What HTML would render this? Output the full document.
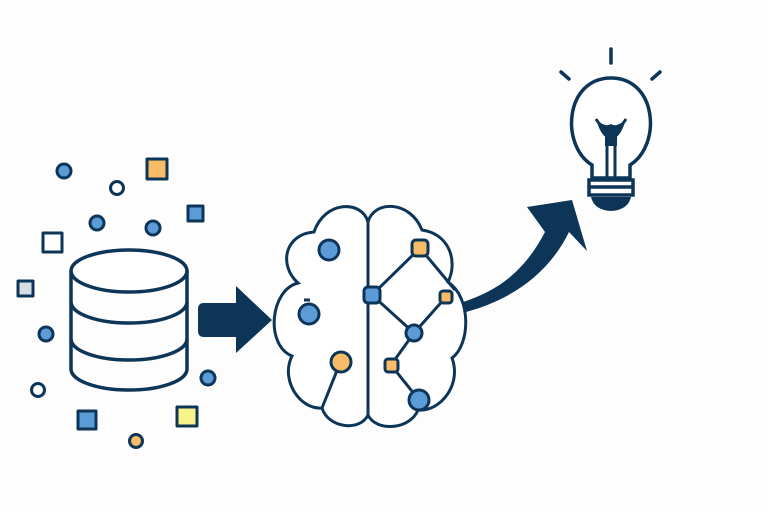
<!DOCTYPE html>
<html><head><style>html,body{margin:0;padding:0;background:#fff}</style></head><body>
<svg width="768" height="512" viewBox="0 0 768 512" xmlns="http://www.w3.org/2000/svg">
<rect width="768" height="512" fill="#fdfdfd"/>
<g stroke="#0d3558" stroke-width="3" stroke-linejoin="round">
<circle cx="64" cy="171" r="7" fill="#5b9bd8"/>
<rect x="147" y="159" width="20" height="20" fill="#f8bb67"/>
<circle cx="117" cy="188" r="6.5" fill="#fff"/>
<rect x="188" y="206" width="15" height="15" fill="#5b9bd8"/>
<circle cx="97" cy="223" r="7" fill="#5b9bd8"/>
<circle cx="153" cy="228" r="7" fill="#5b9bd8"/>
<rect x="43" y="233" width="19" height="19" fill="#fff"/>
<rect x="18" y="281" width="15" height="15" fill="#d6dde3"/>
<circle cx="46" cy="334" r="7" fill="#5b9bd8"/>
<circle cx="38" cy="390" r="6.5" fill="#fff"/>
<rect x="78" y="411" width="18" height="18" fill="#5b9bd8"/>
<circle cx="208" cy="378" r="7" fill="#5b9bd8"/>
<rect x="177" y="407" width="20" height="19" fill="#f7f28a"/>
<circle cx="136" cy="441" r="6.5" fill="#f8bb67"/>
</g>
<g fill="none" stroke="#0d3558" stroke-width="3.5">
<ellipse cx="129" cy="271" rx="58" ry="21" fill="#fff"/>
<path d="M71 271 V369 A58 21 0 0 0 187 369 V271"/>
<path d="M71 302 A58 21 0 0 0 187 302"/>
<path d="M71 339 A58 21 0 0 0 187 339"/>
</g>
<path d="M204 303 H236 V286 L272 320 L236 353 V337 H204 Q198 337 198 331 V309 Q198 303 204 303 Z" fill="#0d3558"/>
<g fill="#fff" stroke="#0d3558" stroke-width="3">
<path d="M368 222 C362 200 325 200 314 232 C285 234 278 265 298 283 C270 290 265 345 292 356 C280 380 300 410 322 408 C328 428 360 432 368 415 Z"/>
<path d="M368 222 C374 200 410 200 422 230 C450 234 458 262 448 282 C472 298 470 345 452 358 C462 385 440 412 418 410 C410 430 376 432 368 415 Z"/>
</g>
<path d="M463 302 C500 290 525 270 545 232 L527 207 L572 200 L587 251 L569 232 C548 275 510 300 466 312 Z" fill="#0d3558"/>
<g stroke="#0d3558" stroke-width="3" fill="none">
<line x1="368" y1="222" x2="368" y2="415"/>
<line x1="372" y1="295" x2="420" y2="248"/>
<line x1="420" y1="248" x2="455" y2="290"/>
<line x1="372" y1="295" x2="414" y2="333"/>
<line x1="446" y1="297" x2="414" y2="333"/>
<line x1="414" y1="333" x2="391" y2="365"/>
<line x1="391" y1="365" x2="419" y2="400"/>
<line x1="338" y1="368" x2="322" y2="408"/>
<path d="M304 300 H310"/>
</g>
<g stroke="#0d3558" stroke-width="3">
<circle cx="329" cy="250" r="10" fill="#5b9bd8"/>
<circle cx="309" cy="314" r="10" fill="#5b9bd8"/>
<circle cx="341" cy="362" r="10" fill="#f8bb67"/>
<rect x="364" y="287" width="16" height="16" rx="4" fill="#5b9bd8"/>
<rect x="412" y="240" width="16" height="16" rx="4" fill="#f8bb67"/>
<rect x="440" y="291" width="12" height="12" rx="3" fill="#f8bb67"/>
<circle cx="414" cy="333" r="8" fill="#5b9bd8"/>
<rect x="385" y="359" width="13" height="13" rx="3" fill="#f8bb67"/>
<circle cx="419" cy="400" r="10" fill="#5b9bd8"/>
</g>
<g stroke="#0d3558" stroke-width="3.5" fill="none" stroke-linecap="round">
<line x1="611" y1="49" x2="611" y2="63"/>
<line x1="561" y1="72" x2="569" y2="79"/>
<line x1="660" y1="72" x2="652" y2="79"/>
<path d="M592 165 C560 145 565 78 611 78 C657 78 662 145 630 165 V178 H592 Z" fill="#fff"/>
<path d="M589 180 H633 V195 H589 Z" fill="#fff"/>
<line x1="589" y1="187" x2="633" y2="187"/>
</g>
<path d="M591 197 H631 Q628 210 611 211 Q594 210 591 197 Z" fill="#0d3558"/>
<path d="M596 119 Q603 130 607 128 L607 178 M626 119 Q619 130 615 128 L615 178" stroke="#0d3558" stroke-width="3" fill="none"/>
<path d="M596 119 Q605 128 611 124 Q617 128 626 119 Q620 140 611 138 Q602 140 596 119 Z" fill="#0d3558"/>
<rect x="605" y="136" width="12" height="10" fill="#0d3558"/>
</svg>
</body></html>
